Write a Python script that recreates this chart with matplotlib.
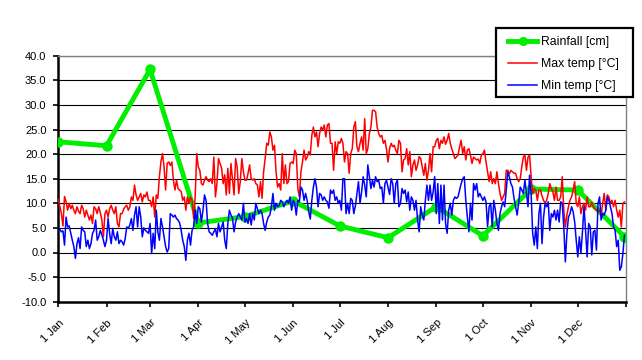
import matplotlib
matplotlib.use("Agg")
import matplotlib.pyplot as plt
import matplotlib.transforms as mtransforms
from matplotlib.patches import Rectangle
import numpy as np
import pandas as pd

plt.rcParams['font.family'] = ['Liberation Sans', 'DejaVu Sans']

# ---------------- data ----------------
max_temp = [
    # Jan-Feb
    10.8, 9.3, 7.9, 5.4, 11.4, 10.3, 8.6, 10.0, 8.9, 9.6, 8.6, 7.9, 9.3, 8.4, 7.9, 9.6, 8.9, 7.2, 8.6, 7.6,
    6.6, 7.6, 5.9, 9.3, 8.9, 7.9, 9.3, 8.1, 6.6, 3.2, 7.9, 8.6, 7.2, 8.9, 9.6, 8.6, 7.9, 9.3, 5.9, 5.2,
    7.9, 7.9, 8.8, 9.3, 9.6, 8.6, 9.3, 11.3, 10.6, 13.7, 11.7, 10.6, 11.3, 12.0, 10.3, 11.7, 11.3, 12.3, 10.6,
    # Mar-Apr
    10.6, 9.3, 11.3, 7.2, 11.7, 11.0, 15.4, 18.5, 20.1, 17.4, 12.7, 18.1, 18.4, 17.7, 18.4, 14.7, 12.7, 14.7, 13.0, 12.7,
    12.4, 10.6, 11.3, 8.6, 11.3, 10.0, 11.3, 10.6, 6.9, 11.3, 20.1, 17.4, 16.7, 14.0, 13.7, 14.7, 15.4, 14.7, 14.4, 15.0,
    14.0, 19.4, 11.3, 14.0, 19.1, 18.1, 17.1, 14.0, 15.8, 11.7, 17.1, 12.0, 18.1, 15.0, 11.7, 19.1, 17.4, 12.0, 14.4, 19.1,
    16.4, 14.7,
    # May-Jun
    14.7, 16.1, 17.8, 15.0, 14.7, 15.0, 14.0, 13.7, 11.3, 14.4, 11.0, 16.4, 19.1, 22.2, 21.8, 24.5, 23.5, 20.8, 21.8, 16.4,
    13.3, 14.0, 12.7, 20.1, 14.0, 17.8, 14.0, 14.4, 18.1, 18.4, 18.1, 20.8, 20.1, 13.0, 11.3, 16.4, 18.4, 20.8, 18.8, 19.4,
    20.5, 19.8, 23.8, 25.5, 23.5, 24.5, 21.5, 24.2, 25.5, 24.9, 25.9, 23.5, 25.9, 26.2, 22.2, 22.2, 16.7, 22.5, 20.1, 22.5,
    # Jul-Aug
    22.2, 23.2, 22.2, 18.4, 20.5, 20.1, 16.1, 20.1, 21.1, 25.5, 26.6, 21.5, 20.5, 22.2, 23.5, 20.8, 27.2, 20.1, 21.1, 24.2,
    25.5, 28.9, 28.9, 28.6, 25.5, 24.2, 23.5, 23.8, 22.2, 22.8, 21.0, 18.4, 21.1, 22.2, 21.5, 21.8, 20.8, 20.1, 22.8, 22.2,
    16.4, 18.8, 19.1, 21.1, 17.8, 20.5, 15.4, 17.8, 18.8, 16.7, 17.8, 19.5, 19.1, 17.4, 15.7, 18.1, 14.7, 16.7, 20.1, 16.4,
    21.5,
    # Sep-Oct
    21.5, 22.8, 23.2, 21.1, 22.8, 22.2, 23.5, 22.0, 22.8, 24.2, 22.2, 21.1, 20.1, 19.1, 19.4, 19.8, 21.5, 22.8, 20.1, 21.5,
    18.8, 20.8, 21.1, 19.8, 18.1, 19.4, 19.1, 18.8, 19.0, 18.1, 19.8, 20.1, 20.8, 18.4, 16.4, 14.4, 16.4, 14.0, 15.0, 14.0,
    16.4, 14.0, 12.0, 10.6, 11.3, 12.0, 16.7, 16.7, 16.0, 16.7, 16.4, 16.1, 16.1, 15.0, 14.4, 15.0, 17.4, 19.4, 19.8, 16.7,
    19.4,
    # Nov-Dec
    19.8, 15.4, 12.0, 13.0, 12.7, 10.6, 12.7, 12.7, 11.5, 10.6, 10.0, 10.6, 12.0, 14.0, 13.0, 12.3, 10.6, 13.3, 10.6, 10.6,
    11.3, 15.4, 8.6, 5.2, 7.6, 9.3, 10.6, 11.3, 12.7, 14.4, 10.0, 9.3, 11.3, 7.9, 9.3, 10.0, 8.6, 11.3, 9.3, 9.3,
    10.2, 9.3, 8.9, 8.6, 8.3, 8.6, 7.6, 10.0, 12.0, 8.6, 11.7, 11.3, 10.0, 10.6, 9.3, 10.6, 8.6, 7.2, 8.6, 5.2,
    10.0, 10.3,
]

min_temp = [
    # Jan-Feb
    4.5, 4.7, 4.2, 4.4, 1.5, 7.2, 5.2, 5.4, 3.9, 2.5, 1.2, -1.2, 1.8, 3.0, 0.8, 5.2, 4.5, 4.2, 1.2, 2.5,
    0.8, 1.8, 3.9, 4.5, 6.6, 2.5, 3.2, 4.5, 3.6, 2.5, 1.2, 2.5, 6.9, 3.9, 1.8, 4.9, 3.2, 2.5, 4.2, 1.8,
    2.5, 2.2, 1.5, 2.8, 5.2, 4.9, 5.6, 6.9, 4.5, 7.6, 9.3, 5.2, 9.3, 7.2, 3.2, 5.0, 4.5, 4.2, 3.9,
    # Mar-Apr
    5.9, -0.2, 3.9, 0.8, 8.6, 4.2, 2.5, 6.9, 5.2, 3.2, 1.2, 0.1, 0.8, 7.9, 7.6, 7.2, 7.6, 6.9, 6.6, 6.0,
    4.5, 2.5, 1.2, -1.6, 2.5, 3.9, 1.5, 4.5, 5.2, 8.6, 5.9, 9.3, 8.9, 6.2, 8.6, 11.7, 10.6, 5.9, 4.2, 3.9,
    3.5, 4.2, 4.8, 3.2, 5.9, 4.2, 5.2, 6.2, 2.5, 0.8, 5.9, 8.6, 7.6, 7.0, 4.2, 6.2, 7.2, 7.9, 7.2, 6.6,
    10.0, 6.2,
    # May-Jun
    6.9, 5.9, 7.9, 5.6, 7.9, 6.6, 10.0, 8.9, 7.9, 8.6, 7.9, 5.9, 4.5, 6.2, 7.2, 7.6, 9.3, 12.0, 8.6, 10.0,
    9.3, 9.6, 10.6, 10.3, 9.3, 10.0, 10.6, 10.0, 11.3, 8.6, 10.6, 10.0, 7.6, 10.6, 10.3, 13.3, 12.7, 10.6, 12.0, 10.6,
    8.3, 6.8, 10.6, 13.3, 15.0, 13.3, 9.3, 12.0, 11.7, 10.6, 11.3, 10.6, 10.3, 9.0, 12.7, 12.0, 12.7, 10.6, 11.3, 10.0,
    # Jul-Aug
    10.6, 8.6, 15.0, 15.0, 7.9, 10.0, 7.9, 11.0, 10.6, 7.9, 9.5, 12.0, 14.4, 10.0, 12.3, 15.4, 13.7, 11.3, 17.8, 15.4,
    13.0, 14.7, 13.3, 15.4, 14.4, 14.7, 13.0, 13.3, 10.0, 14.0, 14.7, 13.3, 11.8, 15.0, 14.0, 10.0, 14.0, 14.7, 9.3, 10.0,
    13.0, 12.0, 12.7, 10.3, 12.3, 8.6, 11.3, 10.6, 8.6, 10.6, 6.6, 4.2, 9.3, 7.6, 6.6, 10.6, 13.7, 10.6, 13.7, 10.6,
    12.3,
    # Sep-Oct
    15.4, 7.9, 14.0, 5.9, 13.7, 6.6, 13.7, 5.9, 3.9, 8.6, 10.0, 7.6, 10.6, 11.3, 11.0, 11.3, 12.7, 14.0, 15.0, 15.4,
    10.6, 7.2, 4.2, 10.0, 6.6, 14.0, 12.7, 14.0, 11.3, 12.0, 11.3, 10.6, 11.3, 10.3, 5.2, 9.3, 10.0, 5.2, 10.6, 8.6,
    5.9, 4.5, 7.9, 9.3, 10.3, 9.3, 12.7, 16.4, 15.4, 14.0, 13.3, 11.0, 9.3, 7.6, 10.0, 13.3, 12.7, 12.0, 14.7, 12.0,
    9.3,
    # Nov-Dec
    15.7, 12.0, 3.9, 1.5, 5.2, 0.8, 7.9, 10.0, 1.8, 7.2, 10.0, 9.3, 10.3, 4.5, 7.9, 7.2, 8.6, 6.6, 8.6, 6.2,
    10.3, 10.0, 5.2, -1.9, 3.9, 7.2, 7.9, 9.3, 8.3, 6.2, 2.5, -0.9, 3.2, -0.2, 4.2, 9.3, 4.5, -0.9, 5.9, 5.2,
    -0.5, 4.2, 4.5, 0.5, 10.0, 11.3, 6.6, 7.9, 7.6, 8.6, 11.3, 10.6, 9.3, 7.9, 5.2, 4.5, 1.2, 2.5, -3.6, -2.9,
    -0.2, 3.5,
]

rain_dates = ['2007-01-01', '2007-02-01', '2007-03-01', '2007-04-01', '2007-05-01', '2007-06-01',
              '2007-07-01', '2007-08-01', '2007-09-01', '2007-10-01', '2007-11-01', '2007-12-01',
              '2007-12-31']
rainfall = [22.5, 21.7, 37.2, 6.0, 7.3, 10.5, 5.4, 3.0, 9.3, 3.4, 12.9, 12.7, 3.2]

month_labels = ['1 Jan', '1 Feb', '1 Mar', '1 Apr', '1 May', '1 Jun',
                '1 Jul', '1 Aug', '1 Sep', '1 Oct', '1 Nov', '1 Dec']

# ---------------- plot ----------------
W, H = 642, 360
days = pd.date_range('2007-01-01', periods=len(max_temp), freq='D')
rdates = pd.to_datetime(rain_dates)

fig = plt.figure(figsize=(W / 100, H / 100), dpi=100)
ax = fig.add_axes([58.3 / W, 1 - 301.7 / H, (626 - 58.3) / W, (301.7 - 55.7) / H])

ax.plot(rdates, rainfall, color='#00ee00', lw=3.5, marker='o', ms=6.5, zorder=3,
        label='Rainfall [cm]')
ax.plot(days, max_temp, color='#ff0000', lw=1.1, zorder=4, label='Max temp [°C]')
ax.plot(days, min_temp, color='#0000ff', lw=1.1, zorder=5, label='Min temp [°C]')

ax.set_ylim(-10, 40)
ax.set_yticks(np.arange(-10, 41, 5))
ax.set_yticklabels([f'{v:.1f}' for v in np.arange(-10, 41, 5)], fontsize=8)
ax.set_xlim(pd.Timestamp('2007-01-01'), pd.Timestamp('2008-01-01'))

month_ticks = pd.date_range('2007-01-01', periods=12, freq='MS')
ax.set_xticks(list(month_ticks) + [pd.Timestamp('2008-01-01')])
ax.set_xticklabels(month_labels + [''], fontsize=8, rotation=45, ha='right',
                   va='top', rotation_mode='anchor')
offset = mtransforms.ScaledTranslation(3 / 100, 0, fig.dpi_scale_trans)
for lab in ax.get_xticklabels():
    lab.set_transform(lab.get_transform() + offset)

ax.grid(axis='y', color='black', lw=0.8)
ax.set_axisbelow(True)
ax.tick_params(axis='both', direction='out', length=3.5, width=1.2, color='black')
ax.tick_params(axis='y', pad=5)
ax.tick_params(axis='x', pad=8)

for side in ['left', 'bottom']:
    ax.spines[side].set_linewidth(1.8)
    ax.spines[side].set_color('black')
for side in ['top', 'right']:
    ax.spines[side].set_linewidth(1.0)
    ax.spines[side].set_color('#808080')

# legend box
box = Rectangle((496 / W, 1 - 97 / H), (633 - 496) / W, (97 - 28) / H,
                transform=fig.transFigure, facecolor='white', edgecolor='black',
                linewidth=1.6, zorder=6)
fig.patches.append(box)
leg = fig.legend(loc='upper left', bbox_to_anchor=(508 / W, 1 - 36 / H),
                 fontsize=8.8, frameon=False, borderpad=0.0,
                 handlelength=2.4, handletextpad=0.3, labelspacing=0.82,
                 borderaxespad=0, markerscale=0.85)
leg.set_zorder(7)

fig.savefig('out.png', dpi=100)
